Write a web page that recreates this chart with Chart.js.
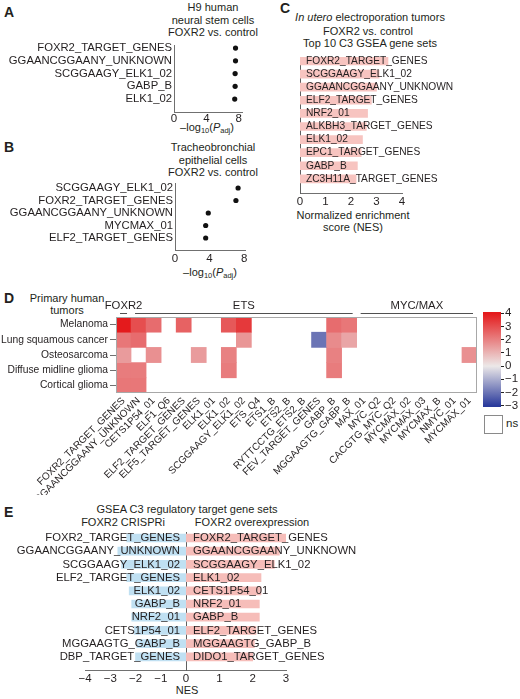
<!DOCTYPE html>
<html>
<head>
<meta charset="utf-8">
<script src="https://cdn.jsdelivr.net/npm/chart.js@4.4.1/dist/chart.umd.min.js"></script>
<style>
body { margin: 0; background: #fff; width: 520px; height: 699px; overflow: hidden; position: relative;
       font-family: "Liberation Sans", Arial, sans-serif; color: #231f20; }
canvas { position: absolute; }
.t { position: absolute; white-space: nowrap; line-height: 1; transform: translate(-50%, -50%); font-size: 11px; }
.l { position: absolute; font-weight: bold; font-size: 14px; line-height: 1; transform: translate(0, -50%); }
sub { font-size: 7.5px; vertical-align: -2px; }
</style>
</head>
<body>
<div class="l" style="left:4px;top:12px">A</div>
<div class="t" style="left:213px;top:7px">H9 human</div>
<div class="t" style="left:213px;top:20px">neural stem cells</div>
<div class="t" style="left:213px;top:32px">FOXR2 vs. control</div>
<div class="t" style="left:207px;top:128px">–log<sub>10</sub>(<i>P</i><sub>adj</sub>)</div>

<div class="l" style="left:4px;top:147px">B</div>
<div class="t" style="left:213px;top:147px">Tracheobronchial</div>
<div class="t" style="left:213px;top:160px">epithelial cells</div>
<div class="t" style="left:213px;top:172px">FOXR2 vs. control</div>
<div class="t" style="left:210px;top:273px">–log<sub>10</sub>(<i>P</i><sub>adj</sub>)</div>

<div class="l" style="left:280px;top:8px">C</div>
<div class="t" style="left:370px;top:17px"><i>In utero</i> electroporation tumors</div>
<div class="t" style="left:368px;top:31px">FOXR2 vs. control</div>
<div class="t" style="left:370px;top:43px">Top 10 C3 GSEA gene sets</div>
<div class="t" style="left:353px;top:215px">Normalized enrichment</div>
<div class="t" style="left:353px;top:227px">score (NES)</div>

<div class="l" style="left:4px;top:298px">D</div>
<div class="t" style="left:67px;top:298px">Primary human</div>
<div class="t" style="left:67px;top:310px">tumors</div>
<div style="position:absolute;left:484px;top:415px;width:17px;height:17px;border:1px solid #8a8a8a"></div>
<div class="t" style="left:506px;top:424px;transform:translate(0,-50%);font-size:11.5px">ns</div>

<div class="l" style="left:4px;top:512px">E</div>
<div class="t" style="left:187px;top:509px">GSEA C3 regulatory target gene sets</div>
<div class="t" style="left:123px;top:522px">FOXR2 CRISPRi</div>
<div class="t" style="left:252px;top:522px">FOXR2 overexpression</div>
<div class="t" style="left:187px;top:690px">NES</div>

<canvas id="cA" width="260" height="88" style="left:0;top:40px"></canvas>
<canvas id="cB" width="260" height="88" style="left:0;top:178px"></canvas>
<canvas id="cC" width="230" height="161" style="left:260px;top:50px"></canvas>
<canvas id="cD" width="480" height="205" style="left:0;top:290px"></canvas>
<canvas id="cCB" width="50" height="110" style="left:470px;top:300px"></canvas>
<canvas id="cEL" width="190" height="163" style="left:0;top:525px"></canvas>
<canvas id="cER" width="200" height="163" style="left:180px;top:525px"></canvas>

<script>
// panel A: H9 neural stem cells
var nscSets = ["FOXR2_TARGET_GENES", "GGAANCGGAANY_UNKNOWN", "SCGGAAGY_ELK1_02", "GABP_B", "ELK1_02"];
var nscPadj = [7.6, 7.6, 7.55, 7.55, 7.5];

// panel B: tracheobronchial epithelial cells
var tbecSets = ["SCGGAAGY_ELK1_02", "FOXR2_TARGET_GENES", "GGAANCGGAANY_UNKNOWN", "MYCMAX_01", "ELF2_TARGET_GENES"];
var tbecPadj = [7.3, 7.05, 3.85, 3.55, 3.55];

// panel C: in utero electroporation tumors
var iueSets = ["FOXR2_TARGET_GENES", "SCGGAAGY_ELK1_02", "GGAANCGGAANY_UNKNOWN", "ELF2_TARGET_GENES", "NRF2_01",
               "ALKBH3_TARGET_GENES", "ELK1_02", "EPC1_TARGET_GENES", "GABP_B", "ZC3H11A_TARGET_GENES"];
var iueNES = [3.45, 3.1, 3.0, 2.8, 2.65, 2.6, 2.45, 2.4, 2.25, 2.2];

// panel D: primary human tumors heatmap (null = ns)
var tumors = ["Melanoma", "Lung squamous cancer", "Osteosarcoma", "Diffuse midline glioma", "Cortical glioma"];
var motifSets = ["FOXR2_TARGET_GENES", "GGAANCGGAANY_UNKNOWN", "CETS1P54_01", "ELF1_Q6", "ELF2_TARGET_GENES",
                 "ELF5_TARGET_GENES", "ELK1_01", "ELK1_02", "SCGGAAGY_ELK1_02", "ETS_Q4", "ETS1_B", "ETS2_B",
                 "RYTTCCTG_ETS2_B", "FEV_TARGET_GENES", "GABP_B", "MGGAAGTG_GABP_B", "MAX_01", "MYC_Q2",
                 "CACGTG_MYC_Q2", "MYCMAX_02", "MYCMAX_03", "MYCMAX_B", "NMYC_01", "MYCMAX_01"];
var melanomaNES = [4.0, 3.0, 2.4, null, 2.6, null, null, 2.8, 3.4, null, null, null, null, null, 2.4, 2.2,
                   null, null, null, null, null, null, null, null];
var lungNES     = [2.2, 2.4, null, null, null, null, null, null, 1.6, null, null, null, null, -2.0, 1.8, 1.3,
                   null, null, null, null, null, null, null, null];
var osteoNES    = [1.5, null, 1.7, null, null, 1.5, null, 2.0, null, null, null, null, null, null, 2.0, null,
                   null, null, null, null, null, null, null, 1.7];
var dmgNES      = [2.1, 2.1, null, null, null, null, null, 2.1, null, null, null, null, null, null, 2.1, null,
                   null, null, null, null, null, null, null, null];
var gliomaNES   = [2.2, 2.2, null, null, null, null, null, null, null, null, null, null, null, null, null, null,
                   null, null, null, null, null, null, null, null];
var groupNames = ["FOXR2", "ETS", "MYC/MAX"];
var groupFirst = [0, 1, 16];
var groupLast = [0, 15, 23];
var scaleTicks = [4, 3, 2, 1, 0, -1, -2, -3];

// panel E: CRISPRi vs overexpression
var crisprSets = ["FOXR2_TARGET_GENES", "GGAANCGGAANY_UNKNOWN", "SCGGAAGY_ELK1_02", "ELF2_TARGET_GENES", "ELK1_02",
                  "GABP_B", "NRF2_01", "CETS1P54_01", "MGGAAGTG_GABP_B", "DBP_TARGET_GENES"];
var crisprNES = [-2.35, -2.7, -2.55, -2.35, -2.25, -2.15, -2.15, -2.05, -1.95, -2.0];
var overSets = ["FOXR2_TARGET_GENES", "GGAANCGGAANY_UNKNOWN", "SCGGAAGY_ELK1_02", "ELK1_02", "CETS1P54_01",
                "NRF2_01", "GABP_B", "ELF2_TARGET_GENES", "MGGAAGTG_GABP_B", "DIDO1_TARGET_GENES"];
var overNES = [3.0, 2.8, 2.65, 2.25, 2.25, 2.2, 2.2, 2.1, 2.05, 2.0];

var FONT = '"Liberation Sans", Arial, sans-serif';
Chart.defaults.font.family = FONT;
Chart.defaults.color = '#231f20';
Chart.defaults.animation = false;
Chart.defaults.plugins.legend.display = false;
Chart.defaults.plugins.tooltip.enabled = false;

function fixAxis(size, horiz) {
    return function (axis) {
        if (horiz) axis.height = size; else axis.width = size;
        axis.paddingLeft = axis.paddingRight = axis.paddingTop = axis.paddingBottom = 0;
    };
}

function rowTicks(names, shift) {
    return function (axis) {
        axis.ticks = names.map(function (n, i) { return { value: i + shift }; });
    };
}

function minus(v) {
    return v < 0 ? '\u2212' + Math.abs(v) : String(v);
}

// diverging red / grey / blue like the colour bar
function colorFor(v) {
    var mid = [236, 232, 232], hi = [228, 26, 28], lo = [42, 58, 156];
    var end = v >= 0 ? hi : lo;
    var t = v >= 0 ? v / 4 : -v / 3;
    t = Math.max(0, Math.min(1, t));
    var c = mid.map(function (m, i) { return Math.round(m + (end[i] - m) * t); });
    return 'rgb(' + c.join(',') + ')';
}

function dotChart(id, sets, vals, o) {
    return new Chart(document.getElementById(id), {
        type: 'scatter',
        data: {
            datasets: [{
                data: vals.map(function (v, i) { return { x: v, y: i }; }),
                pointRadius: 2.6,
                backgroundColor: '#111',
                borderWidth: 0
            }]
        },
        options: {
            responsive: false,
            layout: { padding: o.pad },
            scales: {
                x: {
                    min: 0, max: o.xmax,
                    border: { color: '#707070' },
                    grid: { display: false, drawTicks: false },
                    ticks: { stepSize: 4, includeBounds: false, padding: o.tp, font: { size: 11.5 } },
                    afterFit: fixAxis(14, true)
                },
                y: {
                    type: 'linear', reverse: true, min: o.ymin, max: o.ymax,
                    border: { color: '#707070' },
                    grid: { display: false, drawTicks: false },
                    afterBuildTicks: rowTicks(sets, 0),
                    ticks: { autoSkip: false, padding: 2, font: { size: 11.3 },
                             callback: function (v) { return sets[v]; } },
                    afterFit: fixAxis(o.yw, false)
                }
            }
        }
    });
}

function nesChart(id, sets, vals, o) {
    return new Chart(document.getElementById(id), {
        type: 'bar',
        data: {
            datasets: [{
                data: vals.map(function (v, i) { return { x: v, y: i }; }),
                backgroundColor: o.color,
                barThickness: 8
            }]
        },
        options: {
            indexAxis: 'y',
            responsive: false,
            layout: { padding: o.pad },
            scales: {
                x: {
                    type: 'linear', min: o.xmin, max: o.xmax,
                    border: { color: '#707070' },
                    grid: { display: false, drawTicks: false },
                    ticks: { stepSize: 1, padding: 2, font: { size: 11.5 }, callback: o.tickLabel },
                    afterFit: fixAxis(16, true)
                },
                y: {
                    type: 'linear', position: o.ypos, reverse: true, offset: false,
                    min: o.ymin, max: o.ymax,
                    border: { display: o.yline, color: '#606060' },
                    grid: { display: false, drawTicks: false, offset: false },
                    afterBuildTicks: rowTicks(sets, 0),
                    ticks: { mirror: true, autoSkip: false, padding: o.lp, z: 1, font: { size: o.fs },
                             callback: function (v) { return sets[v]; } },
                    afterFit: fixAxis(0, false)
                }
            }
        }
    });
}

dotChart('cA', nscSets, nscPadj, { pad: { left: 0, top: 5, right: 18, bottom: 2 }, yw: 174, xmax: 8.4, ymin: -0.24, ymax: 5.01, tp: 0 });
dotChart('cB', tbecSets, tbecPadj, { pad: { left: 0, top: 5, right: 15, bottom: 2 }, yw: 175, xmax: 8.1, ymin: -0.4, ymax: 4.96, tp: 2 });

nesChart('cC', iueSets, iueNES, {
    pad: { left: 40, top: 7, right: 88, bottom: 2 }, color: '#f7c4c0', xmin: 0, xmax: 4,
    ymin: -0.305, ymax: 10.08, ypos: 'left', yline: true, lp: 6, fs: 10.2,
    tickLabel: function (v) { return String(v); }
});

nesChart('cEL', crisprSets, crisprNES, {
    pad: { left: 85, top: 7, right: 4, bottom: 2 }, color: '#c0e0f2', xmin: -4, xmax: 0,
    ymin: -0.4545, ymax: 10.0, ypos: 'right', yline: false, lp: -6, fs: 11.3,
    tickLabel: function (v) { return v === 0 ? '' : minus(v); }
});

nesChart('cER', overSets, overNES, {
    pad: { left: 6, top: 7, right: 94, bottom: 2 }, color: '#f6bdb9', xmin: 0, xmax: 3,
    ymin: -0.4545, ymax: 10.0, ypos: 'left', yline: true, lp: 7, fs: 11.3,
    tickLabel: function (v) { return String(v); }
});

// heatmap
var tumorRows = [melanomaNES, lungNES, osteoNES, dmgNES, gliomaNES];

var groupPlugin = {
    id: 'groups',
    afterDraw: function (chart) {
        var c = chart.ctx, x = chart.scales.x, a = chart.chartArea;
        var half = (x.getPixelForValue(1) - x.getPixelForValue(0)) / 2;
        c.save();
        c.strokeStyle = '#a8a8a8';
        c.lineWidth = 1;
        c.strokeRect(a.left + 0.5, a.top + 0.5, a.right - a.left - 1, a.bottom - a.top - 1);
        c.strokeStyle = '#505050';
        c.fillStyle = '#231f20';
        c.font = '11.3px ' + FONT;
        c.textAlign = 'center';
        c.textBaseline = 'middle';
        groupNames.forEach(function (g, i) {
            var x0 = x.getPixelForValue(groupFirst[i]) - half + 4;
            var x1 = x.getPixelForValue(groupLast[i]) + half - 4;
            c.beginPath();
            c.moveTo(x0, a.top - 3.5);
            c.lineTo(x1, a.top - 3.5);
            c.stroke();
            c.fillText(g, (x0 + x1) / 2, a.top - 11);
        });
        c.restore();
    }
};

new Chart(document.getElementById('cD'), {
    type: 'bar',
    data: {
        labels: motifSets,
        datasets: tumorRows.map(function (row, r) {
            return {
                data: row.map(function (v) { return v === null ? null : [r, r + 1]; }),
                backgroundColor: row.map(function (v) { return v === null ? 'rgba(0,0,0,0)' : colorFor(v); }),
                grouped: false,
                barPercentage: 1,
                categoryPercentage: 1,
                borderWidth: 0
            };
        })
    },
    options: {
        responsive: false,
        layout: { padding: { left: 0, top: 27, right: 3, bottom: 0 } },
        scales: {
            x: {
                border: { display: false },
                grid: { display: false, drawTicks: false },
                ticks: { autoSkip: false, minRotation: 45, maxRotation: 45, padding: 2, font: { size: 10 } },
                afterFit: fixAxis(102, true)
            },
            y: {
                type: 'linear', reverse: true, min: 0, max: 5,
                border: { display: false },
                grid: { drawOnChartArea: false, drawTicks: true, tickLength: 6, color: '#707070' },
                afterBuildTicks: rowTicks(tumors, 0.5),
                ticks: { autoSkip: false, padding: 2, font: { size: 10.3 },
                         callback: function (v) { return tumors[Math.floor(v)]; } },
                afterFit: fixAxis(116, false)
            }
        }
    },
    plugins: [groupPlugin]
});

// colour bar
new Chart(document.getElementById('cCB'), {
    type: 'bar',
    data: {
        labels: ['NES'],
        datasets: [{
            data: [[-3.1, 4.1]],
            barPercentage: 1,
            categoryPercentage: 1,
            borderWidth: 0,
            backgroundColor: function (ctx) {
                var ch = ctx.chart;
                if (!ch.chartArea) return '#ddd';
                var y = ch.scales.y;
                var top = y.getPixelForValue(4), bottom = y.getPixelForValue(-3);
                var g = ch.ctx.createLinearGradient(0, top, 0, bottom);
                scaleTicks.forEach(function (v) { g.addColorStop((4 - v) / 7, colorFor(v)); });
                return g;
            }
        }]
    },
    options: {
        responsive: false,
        layout: { padding: { left: 13, top: 12, right: 0, bottom: 3 } },
        scales: {
            x: { display: false },
            y: {
                position: 'right', min: -3.1, max: 4.1,
                border: { display: false },
                grid: { drawOnChartArea: false, drawTicks: true, tickLength: 3, color: '#222' },
                afterBuildTicks: function (axis) {
                    axis.ticks = scaleTicks.map(function (v) { return { value: v }; });
                },
                ticks: { autoSkip: false, padding: 1, font: { size: 11.5 }, callback: minus },
                afterFit: fixAxis(19, false)
            }
        }
    }
});
</script>
</body>
</html>
